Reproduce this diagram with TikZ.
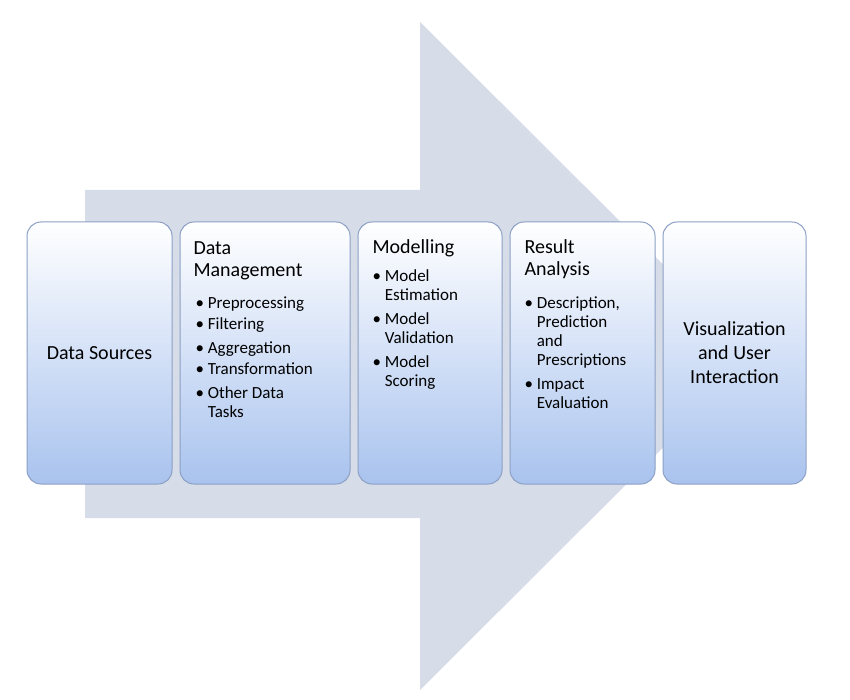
\documentclass[tikz,border=0pt]{standalone}
\usepackage{fontspec}
\setmainfont{Carlito}
\definecolor{arr}{HTML}{D6DCE8}
\definecolor{bbot}{HTML}{A9C3EE}
\definecolor{bmid}{HTML}{D4E1F7}
\definecolor{bdr}{HTML}{8CA0C4}
\begin{document}
\begin{tikzpicture}[x=1pt,y=-1pt,
 box/.style={draw=bdr, line width=1pt, rounded corners=14pt, top color=white, bottom color=bbot, middle color=bmid},
 ttl/.style={font=\fontsize{20}{22}\selectfont, align=left, anchor=north west},
 lst/.style={font=\fontsize{17}{19}\selectfont, align=left, anchor=north west}]
\useasboundingbox (0,0) rectangle (850,700);
\fill[arr] (85,190) -- (420,190) -- (420,22) -- (755,356) -- (420,690) -- (420,518) -- (85,518) -- cycle;
\node[box, minimum width=145pt, minimum height=262pt] (b1) at (99.5,353) {};
\node[box, minimum width=170pt, minimum height=262pt] (b2) at (265,353) {};
\node[box, minimum width=144pt, minimum height=262pt] (b3) at (430,353) {};
\node[box, minimum width=145pt, minimum height=262pt] (b4) at (582.5,353) {};
\node[box, minimum width=143pt, minimum height=262pt] (b5) at (734.5,353) {};
\node[font=\fontsize{20}{22}\selectfont] (t1) at (b1) {Data Sources};
\node[ttl] (t2) at (190,238) {Data\\Management};
\node[lst] (l2) at (192,293) {\textbullet\ Preprocessing\\[2pt]\textbullet\ Filtering\\[5pt]\textbullet\ Aggregation\\[2pt]\textbullet\ Transformation\\[5pt]\textbullet\ Other Data\\\phantom{\textbullet\ }Tasks};
\node[ttl] (t3) at (369,236) {Modelling};
\node[lst] (l3) at (369,266) {\textbullet\ Model\\\phantom{\textbullet\ }Estimation\\[5pt]\textbullet\ Model\\\phantom{\textbullet\ }Validation\\[5pt]\textbullet\ Model\\\phantom{\textbullet\ }Scoring};
\node[ttl] (t4) at (521,236) {Result\\Analysis};
\node[lst] (l4) at (521,293) {\textbullet\ Description,\\\phantom{\textbullet\ }Prediction\\\phantom{\textbullet\ }and\\\phantom{\textbullet\ }Prescriptions\\[5pt]\textbullet\ Impact\\\phantom{\textbullet\ }Evaluation};
\node[font=\fontsize{20}{24}\selectfont, align=center] (t5) at (b5) {Visualization\\and User\\Interaction};
\end{tikzpicture}
\end{document}
